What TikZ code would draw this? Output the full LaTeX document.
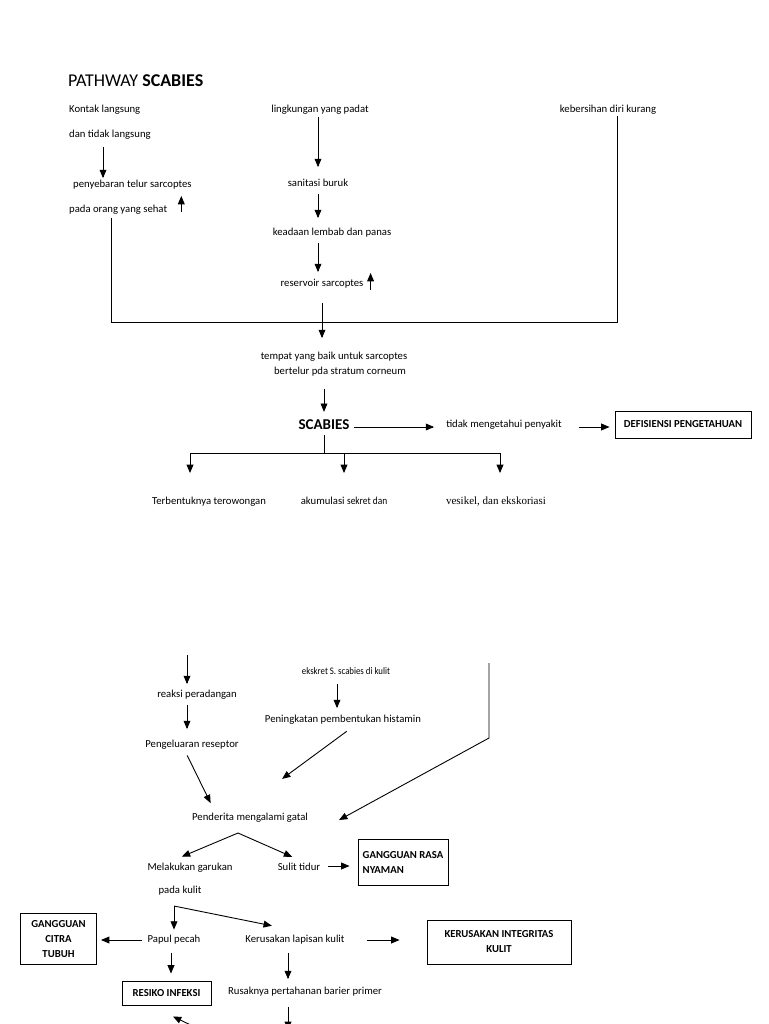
\documentclass[tikz,border=0pt]{standalone}
\usepackage{fontspec}
\setmainfont{Carlito}
\newfontfamily\serifface{Liberation Serif}
\newfontfamily\narrowface[FakeStretch=0.88]{Carlito}
\usetikzlibrary{arrows}
\tikzstyle{txt} = [font=\fontsize{10.7}{13}\selectfont, inner sep=1pt, text height=7.5pt, text depth=2pt]
\tikzstyle{diagnosa} = [draw, line width=1pt, font=\bfseries\fontsize{10.7}{15}\selectfont, align=center, inner sep=3pt]
\tikzstyle{link} = [->, >=triangle 45, draw, line width=0.9pt]
\tikzstyle{plainlink} = [draw, line width=0.9pt]

\begin{document}
\begin{tikzpicture}[x=1pt, y=-1pt]
        \useasboundingbox (0,0) rectangle (768,1024);
        \fill[white] (0,0) rectangle (768,1024);

        \node[anchor=west, inner sep=0pt, font=\fontsize{18}{21}\selectfont] (judul) at (68,81) {PATHWAY \textbf{SCABIES}};

        % penyebab
        \node[txt, anchor=west] (kontak) at (68,110) {Kontak langsung};
        \node[txt, anchor=west] (dantidak) at (68,135) {dan tidak langsung};
        \node[txt, anchor=west] (penyebaran) at (72,185) {penyebaran telur sarcoptes};
        \node[txt, anchor=west] (pada) at (68,210) {pada orang yang sehat};
        \coordinate (kx) at (103,0);
        \draw[link, shorten <=6pt, shorten >=1pt] (dantidak.south -| kx) -- (penyebaran.north -| kx);
        \draw[link] ([xshift=13pt, yshift=-2pt]pada.east) -- ++(0,-16);

        \node[txt] (lingkungan) at (320,110) {lingkungan yang padat};
        \node[txt] (sanitasi) at (318,184) {sanitasi buruk};
        \node[txt] (keadaan) at (332,233) {keadaan lembab dan panas};
        \node[txt] (reservoir) at (322,284) {reservoir sarcoptes};
        \draw[link, shorten <=1pt, shorten >=11pt] (lingkungan.south -| sanitasi) -- (sanitasi.north);
        \draw[link, shorten <=4pt, shorten >=9pt] (sanitasi.south) -- (sanitasi.south |- keadaan.north);
        \draw[link, shorten <=4pt, shorten >=6pt] (keadaan.south -| sanitasi) -- (reservoir.north -| sanitasi);
        \draw[link] ([xshift=6pt, yshift=-6pt]reservoir.east) -- ++(0,-17);

        \node[txt] (kebersihan) at (608,110) {kebersihan diri kurang};
        \coordinate (gabungL) at (111,322);
        \coordinate (gabungR) at (617,322);
        \draw[plainlink, shorten <=2pt] (pada.south -| gabungL) -- (gabungL) -- (gabungR) -- (kebersihan.south -| gabungR);

        \node[txt] (tempat) at (334,357) {tempat yang baik untuk sarcoptes};
        \node[txt] (bertelur) at (340,372) {bertelur pda stratum corneum};
        \draw[link, shorten <=13pt, shorten >=13pt] (reservoir.south) -- (reservoir.south |- tempat.north);

        % scabies
        \node[txt, font=\bfseries\fontsize{15}{17}\selectfont, text height=10pt, text depth=0pt] (scabies) at (324,424) {SCABIES};
        \node[txt] (tidak) at (504,425) {tidak mengetahui penyakit};
        \node[diagnosa, minimum width=136, minimum height=27] (defisiensi) at (683,424.5) {DEFISIENSI PENGETAHUAN};
        \draw[link, shorten <=11pt, shorten >=6pt] (bertelur.south -| scabies) -- (scabies.north);
        \draw[link, shorten <=3pt, shorten >=11pt] ([yshift=-3pt]scabies.east) -- ([yshift=-2pt]tidak.west);
        \draw[link, shorten <=16pt, shorten >=5pt] ([yshift=-2pt]tidak.east) -- ([yshift=-2pt]tidak.east -| defisiensi.west);

        \coordinate (cabang) at (324,453);
        \coordinate (cabangL) at (190,453);
        \coordinate (cabangR) at (500,453);
        \node[txt] (terbentuk) at (209,502) {Terbentuknya terowongan};
        \node[txt] (akumulasi) at (344,502) {akumulasi {\narrowface sekret dan}};
        \node[txt, font=\serifface\fontsize{11}{13}\selectfont] (vesikel) at (496,502) {vesikel, dan ekskoriasi};
        \draw[plainlink, shorten <=5pt] (scabies.south) -- (cabang);
        \draw[plainlink] (cabangL) -- (cabangR);
        \draw[link] (cabangL) -- ++(0,20);
        \draw[link] (cabang -| akumulasi) -- ++(0,20);
        \draw[link] (cabangR) -- ++(0,20);

        % gatal
        \coordinate (atasL) at (187,655);
        \node[txt] (reaksi) at (197,695) {reaksi peradangan};
        \node[txt] (pengeluaran) at (192,745) {Pengeluaran reseptor};
        \draw[link, shorten >=5pt] (atasL) -- (atasL |- reaksi.north);
        \draw[link, shorten <=4pt, shorten >=10pt] (reaksi.south -| atasL) -- (pengeluaran.north -| atasL);

        \node[txt, font=\narrowface\fontsize{10}{12}\selectfont] (ekskret) at (346,672) {ekskret S. scabies di kulit};
        \node[txt] (peningkatan) at (343,720) {Peningkatan pembentukan histamin};
        \draw[link, shorten <=6pt, shorten >=6pt] ([xshift=-9pt]ekskret.south) -- ([xshift=-6pt]peningkatan.north);

        \node[txt] (penderita) at (250,818) {Penderita mengalami gatal};
        \draw[link, shorten <=9pt, shorten >=56pt] ([xshift=11pt]peningkatan.south) -- ([xshift=-13pt]penderita.north);
        \draw[link, shorten <=5pt, shorten >=10pt] ([xshift=-7pt]pengeluaran.south) -- ([xshift=-35pt]penderita.north);
        \coordinate (atasR) at (489,663);
        \coordinate (tekukR) at (489,738);
        \draw[link] (atasR) -- (tekukR) -- ([xshift=30pt, yshift=-2pt]penderita.east);

        \coordinate (gatal) at (238,833);
        \node[txt] (melakukan) at (190,868) {Melakukan garukan};
        \node[txt] (sulit) at (299,868) {Sulit tidur};
        \node[diagnosa, align=left, minimum width=90, minimum height=46] (nyaman) at (403,862) {GANGGUAN RASA\\NYAMAN};
        \draw[link, shorten >=14pt] (gatal) -- ([xshift=-21pt]melakukan.north);
        \draw[link, shorten >=13pt] (gatal) -- ([xshift=5pt]sulit.north);
        \draw[link, shorten <=7pt, shorten >=8pt] ([yshift=2pt]sulit.east) -- ([yshift=2pt]sulit.east -| nyaman.west);

        % garukan
        \node[txt] (padakulit) at (180,891) {pada kulit};
        \coordinate (garuk) at (174,906);
        \node[txt] (papul) at (174,940) {Papul pecah};
        \node[txt] (kerusakan) at (295,940) {Kerusakan lapisan kulit};
        \node[diagnosa, minimum width=76, minimum height=51] (citra) at (58.5,939) {GANGGUAN\\CITRA\\TUBUH};
        \node[diagnosa, minimum width=144, minimum height=44] (integritas) at (499,942) {KERUSAKAN INTEGRITAS\\KULIT};
        \node[diagnosa, minimum width=89, minimum height=24] (infeksi) at (166.5,993) {RESIKO INFEKSI};
        \node[txt] (rusaknya) at (305,992) {Rusaknya pertahanan barier primer};
        \draw[link, shorten >=4.5pt] (garuk) -- (garuk |- papul.north);
        \draw[link, shorten >=42pt] (garuk) -- ([xshift=18pt]kerusakan.north);
        \draw[link, shorten <=4pt, shorten >=4pt] (papul.west) -- (papul.west -| citra.east);
        \draw[link, shorten <=21pt, shorten >=27pt] (kerusakan.east) -- (kerusakan.east -| integritas.west);
        \draw[link, shorten <=7pt, shorten >=7pt] ([xshift=-3pt]papul.south) -- ([xshift=-3pt]papul.south |- infeksi.north);
        \draw[link, shorten <=7pt, shorten >=7pt] ([xshift=-7pt]kerusakan.south) -- ([xshift=-7pt]kerusakan.south |- rusaknya.north);
        \draw[link, shorten <=9pt] ([xshift=-17pt]rusaknya.south) -- ++(0,32);
        \coordinate (bawahR) at (199,1029);
        \draw[link] (bawahR) -- ([xshift=6.5pt, yshift=-11pt]infeksi.south);

\end{tikzpicture}
\end{document}
